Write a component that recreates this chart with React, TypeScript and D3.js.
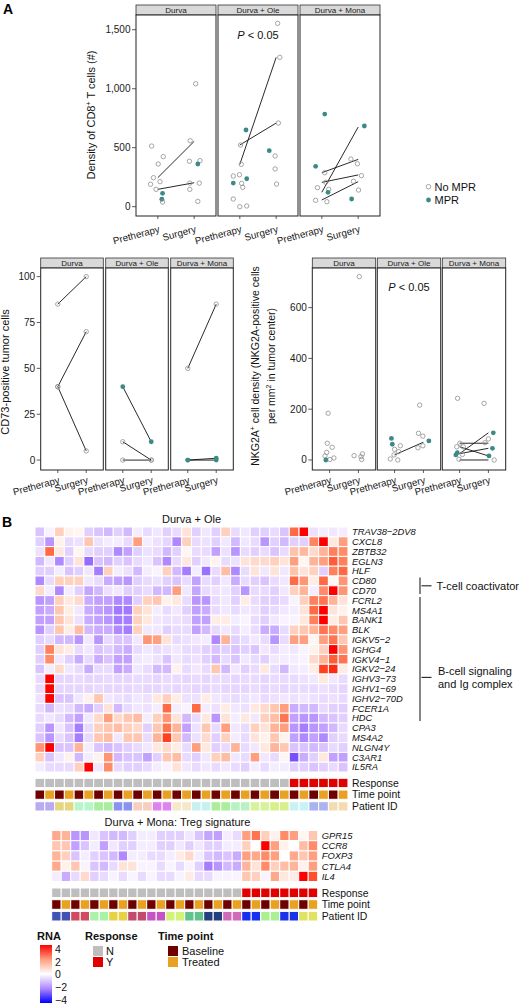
import React from "react";
import * as d3 from "d3";

const FONT = "Liberation Sans, Arial, Helvetica, sans-serif";
const TEAL = "#3b8a86";
const OPEN = "#8f8f8f";

const arms = ["Durva", "Durva + Ole", "Durva + Mona"];
const timepoints = ["Pretherapy", "Surgery"];

// [arm, timepoint, value, MPR (1) / no MPR (0), horizontal jitter in category units]
type Pt = [number, number, number, number, number];
// [arm, pretherapy value, surgery value, MPR]
type Pair = [number, number, number, number];

const cd8Points: Pt[] = [
  [0, 0, 514, 0, -0.17], [0, 0, 424, 0, 0.15], [0, 0, 362, 0, 0.01], [0, 0, 246, 0, -0.12],
  [0, 0, 212, 0, 0.06], [0, 0, 190, 0, -0.2], [0, 0, 147, 0, -0.05], [0, 0, 113, 1, 0.13],
  [0, 0, 63, 1, 0.11], [0, 0, 40, 0, 0.13],
  [0, 1, 1042, 0, 0.04], [0, 1, 559, 0, -0.11], [0, 1, 385, 0, -0.13], [0, 1, 390, 0, 0.16],
  [0, 1, 362, 1, 0.1], [0, 1, 200, 0, -0.12], [0, 1, 200, 0, 0.14], [0, 1, 147, 0, -0.12],
  [0, 1, 45, 0, 0.1],
  [1, 0, 650, 1, 0.17], [1, 0, 523, 0, 0.02], [1, 0, 359, 0, 0.04], [1, 0, 260, 0, -0.18],
  [1, 0, 271, 0, -0.01], [1, 0, 237, 1, 0.19], [1, 0, 200, 1, -0.18], [1, 0, 198, 0, 0.05],
  [1, 0, 164, 0, 0.08], [1, 0, 65, 0, -0.18], [1, 0, 0, 0, 0], [1, 0, 6, 0, 0.19],
  [1, 1, 1554, 0, 0.04], [1, 1, 1266, 0, 0.1], [1, 1, 709, 0, 0.06], [1, 1, 475, 1, -0.19],
  [1, 1, 430, 0, -0.03], [1, 1, 320, 0, -0.03], [1, 1, 192, 0, 0.01],
  [2, 0, 785, 1, 0.08], [2, 0, 342, 1, -0.17], [2, 0, 288, 0, 0.08], [2, 0, 207, 0, 0.11],
  [2, 0, 161, 0, -0.12], [2, 0, 147, 0, 0.19], [2, 0, 122, 1, 0.17], [2, 0, 54, 0, -0.17],
  [2, 0, 42, 0, 0.14],
  [2, 1, 684, 1, 0.17], [2, 1, 404, 0, -0.2], [2, 1, 364, 0, -0.02], [2, 1, 263, 0, 0.09],
  [2, 1, 215, 0, -0.13], [2, 1, 141, 0, 0.01], [2, 1, 65, 1, -0.18],
];
const cd8Pairs: Pair[] = [
  [0, 246, 554, 0], [0, 147, 203, 0], [1, 359, 1266, 0], [1, 523, 709, 0],
  [2, 122, 675, 1], [2, 288, 401, 0], [2, 206, 269, 0], [2, 57, 212, 0],
];

const cd73Pairs: Pair[] = [
  [0, 85, 100, 0], [0, 40, 70, 0], [0, 40, 5, 0],
  [1, 40, 10, 1], [1, 10, 0, 0], [1, 0, 0, 0],
  [2, 50, 85, 0], [2, 0, 0, 1], [2, 0, 1, 1],
];

const nkPoints: Pt[] = [
  [0, 0, 184, 0, -0.05], [0, 0, 66, 0, -0.08], [0, 0, 50, 0, 0.09], [0, 0, 30, 0, -0.1],
  [0, 0, 16, 0, -0.16], [0, 0, 8, 0, 0.15], [0, 0, 2, 0, 0.01], [0, 0, 0, 1, -0.13],
  [0, 1, 722, 0, 0.03], [0, 1, 17, 0, -0.15], [0, 1, 24, 0, 0.14], [0, 1, 13, 0, 0.09],
  [0, 1, 2, 0, 0.11],
  [1, 0, 85, 1, -0.11], [1, 0, 62, 1, -0.08], [1, 0, 56, 0, 0.2], [1, 0, 42, 0, 0],
  [1, 0, 33, 0, 0.14], [1, 0, 20, 0, -0.02], [1, 0, 4, 0, -0.15], [1, 0, 0, 0, 0.11],
  [1, 1, 216, 0, -0.13], [1, 1, 105, 0, -0.17], [1, 1, 94, 0, -0.02], [1, 1, 75, 1, 0.19],
  [1, 1, 48, 0, -0.19], [1, 1, 56, 0, -0.02],
  [2, 0, 243, 0, -0.07], [2, 0, 52, 0, -0.1], [2, 0, 66, 0, 0.01], [2, 0, 29, 1, -0.08],
  [2, 0, 20, 1, -0.13], [2, 0, 52, 0, 0.13], [2, 0, 22, 0, 0.1], [2, 0, 3, 0, -0.02],
  [2, 1, 223, 0, -0.15], [2, 1, 107, 1, 0.17], [2, 1, 83, 0, 0], [2, 1, 68, 0, -0.12],
  [2, 1, 46, 1, 0.14], [2, 1, 16, 1, 0.02], [2, 1, 0, 0, 0.2],
];
const nkPairs: Pair[] = [
  [1, 20, 70, 0], [2, 66, 66, 0], [2, 25, 107, 0], [2, 52, 16, 0], [2, 0, 0, 0], [2, 25, 46, 0],
];

// Heatmap: Durva + Ole
const oleGenes = [
  "TRAV38\u22122DV8", "CXCL8", "ZBTB32", "EGLN3", "HLF", "CD80", "CD70", "FCRL2", "MS4A1",
  "BANK1", "BLK", "IGKV5\u22122", "IGHG4", "IGKV4\u22121", "IGKV2\u221224", "IGHV3\u221273",
  "IGHV1\u221269", "IGHV2\u221270D", "FCER1A", "HDC", "CPA3", "MS4A2", "NLGN4Y", "C3AR1", "IL5RA",
];
const oleExpr: number[][] = [
  [-1, -0.2, 1, 0.3, 0.2, -0.8, -1, -1.2, -0.8, -1.2, -0.3, -0.6, -0.4, -0.8, -0.6, 0.6, -0.8, -0.4, -0.8, 1, -0.6, -0.4, -0.8, -0.8, -0.6, -1, 3, 4, -0.5, -0.3, -0.4, -0.3],
  [-0.8, -1.8, 0.3, -0.6, -0.5, 1.2, -0.5, -0.3, -0.3, -0.6, 2, -0.3, -0.5, -0.7, -2, 1, -0.6, -0.5, -0.8, -0.4, -1.2, -0.4, -0.6, -1.8, -0.8, -1.2, -0.8, -0.8, 2.5, 4, 0.5, 2],
  [-0.5, 3, 0.5, -0.8, 0.2, -0.6, -0.8, -0.8, -2, -1.6, -0.8, -0.5, -0.6, -1.2, -0.8, 0.2, -0.6, -0.6, -1.6, -0.5, -1.8, -0.6, -0.8, -0.6, -1, -0.6, 1.3, 1.5, 0.8, 1.6, 2.6, 2.4],
  [-1.2, -0.4, -2, -0.8, 0.6, -2.5, -1, -1.2, -0.8, -1, -0.6, -0.4, -1, -2, -0.6, 0.5, -0.8, -0.4, 0.3, -0.6, -0.5, 0.6, 0.8, 0.8, 1, 0.6, 2, 0.2, 1.6, 2, 3.2, 2.6],
  [-0.8, -0.8, -0.3, -1, -0.8, -0.4, -2.2, 1, -0.3, -0.5, -1.2, -0.3, -0.2, 1, -1.2, -2.2, -0.3, -2.4, -0.6, 1.4, -2, -0.6, 0.6, -0.4, 0.6, -0.4, 1.3, 0.6, 1, -0.8, 2.6, 3],
  [-2, -0.6, 1, 1, 1, -0.4, -0.6, -1.4, -1.6, -1.8, -0.8, -0.6, -0.5, -0.8, -1, -0.6, -1.6, -0.6, -0.8, -0.4, -1.4, -0.6, -0.8, -1, -0.6, -0.4, 3, 2.2, 0.4, 3, 0.2, 2.2],
  [0.8, -0.3, -2, -0.3, -0.8, -1.5, -1.2, -0.5, -0.4, -0.8, -0.8, -0.6, -1.2, -1.2, 2, -0.4, -1.5, -0.6, -0.5, -0.4, -0.8, -1.8, -0.6, -0.6, -0.8, -0.4, 1, 1.6, -0.3, 2.4, 4, 2.2],
  [-1.8, -1.6, 1, 0.5, 0.8, -1.4, -1.6, -1.6, -2, -2, -0.8, 1, 1.2, 0.3, 0.5, -0.6, -1.8, -1.8, -0.6, -0.4, -0.8, 0.4, -0.6, -0.8, -0.8, -0.6, -0.2, 1, 2.6, 2.8, 1.6, 0.6],
  [-1.6, -1.4, 1.2, 0.4, -0.4, -1.4, -1.6, -1.8, -2.3, -2.3, 1, 0.6, -0.3, -0.6, -0.4, -0.8, -1.6, -1.4, -0.6, -0.4, -0.6, -0.4, -0.5, -0.8, -0.6, -0.4, -0.3, 0.6, 3, 4, 0.6, 0.3],
  [-1.6, -1.6, 1.2, 0.6, -0.5, -1.4, -1.6, -1.8, -2.2, -2.2, 1, 0.5, -0.4, -0.5, -0.5, -0.6, -1.6, -1.6, 0.4, 0.4, -0.3, -0.2, -0.6, -0.8, -0.4, -0.2, -0.2, 0.5, 2.6, 4, 0.4, 1.2],
  [-1.8, -0.8, 1.2, 0.4, 1.4, -1.2, -1.4, -1.4, -2, -2.2, 1, -0.4, -0.4, -0.8, -0.6, -0.6, -1.6, -1.2, -0.6, -0.4, -0.6, -0.3, -0.6, -1.4, -1.4, -0.6, 1, 1.2, 1.6, 2.8, 2.4, 2],
  [-0.8, -0.6, -1.2, -1.2, -1.8, -0.4, -1.8, -0.6, -1, -1, -0.4, 2.2, 2, 0.6, -0.6, -0.5, -0.4, -0.3, -2, 1.6, -0.8, -0.6, -0.4, -0.6, -1.8, -0.6, 2, 2, 0.2, 2, 2.8, 1.2],
  [-0.8, 2.6, 0.6, 0.4, -0.6, -0.4, -1, -0.8, -1.2, -1.4, -0.6, -0.4, -0.6, -0.5, -0.4, -0.6, -0.6, -0.8, -1, -0.8, -1, -0.8, -1, -0.4, -0.6, -0.3, -0.4, -0.2, 0.3, 1, 4, 2.2],
  [-0.8, 2.4, -0.4, -0.8, -1.4, -0.6, -1.4, -1, -1.6, -1.6, -0.4, -0.3, -0.5, -1, -0.4, -0.6, -0.5, -0.8, -1.2, -0.6, -1, -0.4, -0.6, -0.8, -0.4, -0.3, -0.3, -0.2, 0.8, 1.6, 3.2, 2.8],
  [-1, -0.3, 0.8, -0.4, -0.6, -1.4, -0.6, -0.6, -1.6, -1.4, -0.4, -0.6, -1.2, -1.2, 0.3, -0.6, -0.4, -0.6, 1.2, -1.2, -0.4, -0.8, -0.6, 0.5, -0.6, -1.2, -0.4, -0.3, 0.4, 3.6, 3.8, 0.4],
  [-0.6, 4, -0.7, -0.7, -0.6, -0.7, -0.7, -0.6, -0.7, -0.7, -0.6, -0.6, -0.7, -0.6, -0.6, -0.7, -0.6, -0.7, -0.6, -0.6, -0.7, -0.6, -0.6, -0.7, -0.6, -0.6, -0.6, -0.5, -0.4, 0.5, -0.4, -0.6],
  [-0.6, 4, -0.7, -0.7, -0.7, -0.7, -0.6, -0.7, -0.7, -0.7, -0.6, -0.7, -0.7, -0.6, -0.7, -0.6, -0.7, -0.7, -0.6, -0.7, -0.7, -0.7, -0.6, -0.7, -0.6, -0.7, -0.6, -0.6, -0.6, -0.5, -0.6, -0.7],
  [-0.5, 4, -1, -1, -0.4, 0.3, 1.2, -0.4, -0.5, -0.6, -0.4, -0.5, 0.5, 1, 0.4, -0.5, -0.5, 0.4, -0.4, -0.5, -0.6, -0.5, -0.4, -0.6, -0.5, -0.4, -0.5, -0.4, -0.5, -0.6, -0.5, -0.6],
  [-0.6, -1.2, -0.5, -0.6, -1.2, -1.4, -0.8, 0.6, -1.2, -0.6, -0.4, -0.5, -0.3, 3, -0.3, -0.2, 3, -0.3, -0.5, 0.4, -0.4, -0.5, 0.5, 0.8, 1.2, 2, -1.4, -1.2, -1.2, -0.6, -0.8, -0.8],
  [-0.6, -0.4, -0.6, -1.2, -1.6, -0.4, 0.8, 2, 0.8, 1.2, 1.4, -0.3, 1, 2.2, 0.6, -1.2, -0.6, 0.5, -1.8, 0.6, -0.3, 0.5, -0.4, 1, 1.4, 2.8, -1.6, -1.8, -1.8, -1.2, -1, -0.8],
  [-0.8, -1.8, -0.4, -1, -2.2, -0.6, 1, 1.2, 1.4, 1, 0.8, -0.8, 1.2, 2.8, 1.6, -1.6, -0.5, 1.2, -0.6, 2, -0.4, -0.6, 1, 0.6, 1.6, 2, -1.8, -2.2, -1.8, -1.6, -1.2, -0.6],
  [-1, -1.8, -0.6, -1, -2.2, -0.6, 1.2, 1.4, -0.4, 1.2, 1.2, -0.6, 1.6, 3.6, 1.2, -1.2, -0.5, 0.8, -0.8, 1, -0.3, -0.6, 0.6, 0.3, 1.2, 0.3, -1.6, -2, -1.6, -2, -0.8, -0.6],
  [2.2, 4, -1, -1, 1.6, -0.3, -1, -1.2, -1, -0.8, -0.6, -0.4, 0.5, 0.8, 0.4, -0.6, 2, 0.5, -0.8, -0.6, 1.6, -0.6, -0.4, 0.5, 1.6, 1.2, -1, -1, -1.2, -1, -0.6, -0.8],
  [1, -1, -0.4, 0.3, -1.2, -0.3, 0.3, 2.2, -1.2, -1, -1, -1.6, -0.8, 1.2, 1.4, -0.6, -0.8, -0.4, 1, 1.4, -0.4, -0.6, 2, -0.4, -0.6, 0.2, -3, -1.4, -0.8, 0.5, -1.6, -1.6],
  [-0.3, -0.6, -0.6, -0.6, 1, 4, -0.4, 2.4, -0.6, -0.8, -0.8, -0.6, -0.3, -0.2, 0.6, -0.4, -0.6, -0.4, -0.6, -0.4, -0.6, -0.8, -0.3, -0.6, -0.3, -0.3, -0.8, -0.8, -1, -0.8, -0.6, -1],
];
const oleResponse = "NNNNNNNNNNNNNNNNNNNNNNNNNNYYYYYY".split("");
const oleTime = "BTBTBTBTBTBTBTBTBTBTBTBTBTBTBTBT".split("");
const olePatients = [
  "O1", "O1", "O2", "O2", "O3", "O3", "O4", "O4", "O5", "O5", "O6", "O6", "O7", "O7", "O8", "O8",
  "O9", "O9", "O10", "O10", "O11", "O11", "O12", "O12", "O13", "O13", "O14", "O14", "O15", "O15", "O16", "O16",
];
const olePatientIds = ["O1", "O2", "O3", "O4", "O5", "O6", "O7", "O8", "O9", "O10", "O11", "O12", "O13", "O14", "O15", "O16"];
const olePatientFill = [
  "#b9aaf2", "#e6d682", "#b6f6c8", "#a9ee9c", "#8a92f0", "#f6cfc0", "#df82ef", "#f6e8c8",
  "#c6f0f2", "#aaee9a", "#b8f2c2", "#d6f29a", "#d8f08c", "#c8f2f6", "#aab2f2", "#f4dcb2",
];

// Heatmap: Durva + Mona Treg signature
const monaGenes = ["GPR15", "CCR8", "FOXP3", "CTLA4", "IL4"];
const monaExpr: number[][] = [
  [1.8, 1.6, -1.8, -1.8, -0.4, -1, -1.2, -1.2, -0.8, -0.3, -0.3, -0.8, -0.8, -0.8, -0.4, -1, -1.5, -1.6, -0.3, -0.6, 2, 2.8, 1, 0.3, 2.4, 2, 0.2, 1.2],
  [1.2, 1.2, -1.6, -1, -0.3, -1.6, -0.4, -0.8, -0.8, -0.3, -0.3, -0.8, -0.8, -0.4, -0.8, -0.4, -0.8, -0.8, -0.3, -0.3, 1, 0, 4, 2, 0.3, 0, 1.4, 2.4],
  [1.6, 1, -1, -0.3, -0.8, -1, -1.2, -2, -0.3, -0.3, -0.6, -0.6, -0.3, 0.4, 0.8, -0.3, -1, -1.2, -1, -1.4, 2, 1.8, 2.4, 2, 0, 1.8, 1.2, 2],
  [1.8, 0.3, 1.2, -0.2, -1, -1.2, -0.6, 0.6, 0.6, -0.2, -0.2, -0.6, -0.2, -0.6, -0.2, -0.8, -2.2, -1.8, -1.2, -1.4, 1.6, 0.6, 2.4, 1, 1.4, 1.6, 0.3, 2],
  [-0.3, -1.4, -0.6, 0.8, -0.8, -0.6, -0.2, -0.6, -0.2, -0.6, -0.2, -0.6, -0.6, -0.2, 0.4, -0.6, -0.6, -0.2, -0.2, -0.2, 1.2, 1, -0.2, 1.8, 0.5, 0.4, 4, 3.4],
];
const monaResponse = "NNNNNNNNNNNNNNNNNNNNYYYYYYYY".split("");
const monaTime = "BTBTBTBTBTBTBTBTBTBTBTBTBTBT".split("");
const monaPatients = [
  "M1", "M1", "M2", "M2", "M3", "M3", "M4", "M4", "M5", "M5", "M6", "M6", "M7", "M7",
  "M8", "M8", "M9", "M9", "M10", "M10", "M11", "M11", "M12", "M12", "M13", "M13", "M14", "M14",
];
const monaPatientIds = ["M1", "M2", "M3", "M4", "M5", "M6", "M7", "M8", "M9", "M10", "M11", "M12", "M13", "M14"];
const monaPatientFill = [
  "#4052b4", "#d04a62", "#a9f2a9", "#e6d244", "#c24a6c", "#c454c4", "#d2f27a", "#62c28c",
  "#22407c", "#d26ab8", "#1630f0", "#aaf092", "#1a32e6", "#e2e262",
];

const responseLevels = ["N", "Y"];
const responseFill = ["#bebebe", "#e00000"];
const timeLevels = ["B", "T"];
const timeNames = ["Baseline", "Treated"];
const timeFill = ["#6e0000", "#e9a122"];
const rnaTicks = [4, 2, 0, -2, -4];

const rnaColor = d3
  .scaleLinear<string>()
  .domain([-4, 0, 4])
  .range(["blue", "white", "red"])
  .interpolate(d3.interpolateLab)
  .clamp(true);

interface FacetProps {
  left: number;
  panelW: number;
  step: number;
  top: number;
  bottom: number;
  yDomain: [number, number];
  yTicks: number[];
  points: Pt[];
  pairs: Pair[];
  pValue?: number;
  labelOffset: number;
}

const Facet = ({ left, panelW, step, top, bottom, yDomain, yTicks, points, pairs, pValue, labelOffset }: FacetProps) => {
  const y = d3.scaleLinear().domain(yDomain).range([bottom, top]);
  const fmt = d3.format(",");
  return (
    <g>
      {arms.map((arm, a) => {
        const px = left + a * step;
        const x = d3.scaleLinear().domain([0.4, 2.6]).range([px, px + panelW]);
        const pts = points.filter((p) => p[0] === a);
        return (
          <g key={arm}>
            <rect x={px} y={top - 10} width={panelW} height={10} fill="#d9d9d9" stroke="#333" strokeWidth={0.8} />
            <text x={px + panelW / 2} y={top - 2.4} fontSize={8} textAnchor="middle" fill="#1a1a1a">{arm}</text>
            <rect x={px} y={top} width={panelW} height={bottom - top} fill="#fff" stroke="#222" strokeWidth={1} />
            {pairs.filter((p) => p[0] === a).map((p, i) => (
              <line key={i} x1={x(1)} y1={y(p[1])} x2={x(2)} y2={y(p[2])} stroke="#111" strokeWidth={0.9} />
            ))}
            {pts.map((p, i) =>
              p[3] ? (
                <circle key={i} cx={x(p[1] + 1 + p[4])} cy={y(p[2])} r={2.4} fill={TEAL} />
              ) : (
                <circle key={i} cx={x(p[1] + 1 + p[4])} cy={y(p[2])} r={2.2} fill="none" stroke={OPEN} strokeWidth={0.8} />
              )
            )}
            {timepoints.map((t, i) => (
              <g key={t}>
                <line x1={x(i + 1)} x2={x(i + 1)} y1={bottom} y2={bottom + 3} stroke="#333" strokeWidth={0.8} />
                <text
                  transform={`translate(${x(i + 1) + 2.5},${bottom + labelOffset}) rotate(-15)`}
                  textAnchor="end"
                  fontSize={9.8}
                  fill="#1a1a1a"
                >
                  {t}
                </text>
              </g>
            ))}
            {pValue !== undefined && a === 1 && (
              <text x={x(1.5)} y={y(pValue)} fontSize={11} textAnchor="middle" dy="0.35em" fill="#111">
                <tspan fontStyle="italic">P</tspan> {"< 0.05"}
              </text>
            )}
          </g>
        );
      })}
      {yTicks.map((t) => (
        <g key={t}>
          <line x1={left - 4} x2={left} y1={y(t)} y2={y(t)} stroke="#333" strokeWidth={0.8} />
          <text x={left - 5.5} y={y(t)} dy="0.35em" fontSize={10} textAnchor="end" fill="#1a1a1a">{fmt(t)}</text>
        </g>
      ))}
    </g>
  );
};

interface HeatProps {
  matrix: number[][];
  genes: string[];
  x0: number;
  y0: number;
  cw: number;
  ch: number;
  annTop: number;
  annStep: number;
  annH: number;
  response: string[];
  time: string[];
  patients: string[];
  patientIds: string[];
  patientFill: string[];
}

const Heatmap = ({ matrix, genes, x0, y0, cw, ch, annTop, annStep, annH, response, time, patients, patientIds, patientFill }: HeatProps) => {
  const ncol = matrix[0].length;
  const xb = d3.scaleBand<number>().domain(d3.range(ncol)).range([x0, x0 + ncol * cw]);
  const yb = d3.scaleBand<string>().domain(genes).range([y0, y0 + genes.length * ch]);
  const respColor = d3.scaleOrdinal<string, string>().domain(responseLevels).range(responseFill);
  const timeColor = d3.scaleOrdinal<string, string>().domain(timeLevels).range(timeFill);
  const patColor = d3.scaleOrdinal<string, string>().domain(patientIds).range(patientFill);
  const labelX = x0 + ncol * cw + 4;
  const annRows: [string, string[], (v: string) => string][] = [
    ["Response", response, respColor],
    ["Time point", time, timeColor],
    ["Patient ID", patients, patColor],
  ];
  return (
    <g>
      {matrix.map((row, r) =>
        row.map((v, c) => (
          <rect
            key={`${r}-${c}`}
            x={xb(c)}
            y={yb(genes[r])}
            width={xb.bandwidth()}
            height={yb.bandwidth()}
            fill={rnaColor(v)}
            stroke="#fff"
            strokeWidth={1}
          />
        ))
      )}
      {genes.map((g) => (
        <text key={g} x={labelX} y={(yb(g) ?? 0) + yb.bandwidth() / 2} dy="0.36em" fontSize={9.4} fontStyle="italic" fill="#111">
          {g}
        </text>
      ))}
      {annRows.map(([name, vals, col], i) => (
        <g key={name}>
          {vals.map((v, c) => (
            <rect key={c} x={xb(c)} y={annTop + i * annStep} width={xb.bandwidth()} height={annH} fill={col(v)} stroke="#fff" strokeWidth={1} />
          ))}
          <text x={labelX} y={annTop + i * annStep + annH / 2} dy="0.36em" fontSize={10.4} fill="#111">{name}</text>
        </g>
      ))}
    </g>
  );
};

export default function App() {
  const ole = { x0: 35, y0: 527, cw: 9.78, ch: 9.8 };
  const rowY = (g: string) => ole.y0 + oleGenes.indexOf(g) * ole.ch;
  const legY = d3.scaleLinear().domain([4, -4]).range([949, 1000]);
  const cd73Points: Pt[] = cd73Pairs.flatMap((p) => [
    [p[0], 0, p[1], p[3], 0] as Pt,
    [p[0], 1, p[2], p[3], 0] as Pt,
  ]);
  const brX = 420;
  const tTop = rowY("CD80") + 1.5;
  const tBot = rowY("CD70") + ole.ch - 1.5;
  const bTop = rowY("FCRL2") + 1.5;
  const bBot = rowY("HDC") + ole.ch - 2;
  const bMid = rowY("IGHV3\u221273") + ole.ch / 2 - 1.5;

  return (
    <svg
      width={520}
      height={1007}
      style={{ position: "absolute", left: 0, top: 0, background: "#fff" }}
      fontFamily={FONT}
    >
      <defs>
        <linearGradient id="rnaGrad" x1="0" y1="0" x2="0" y2="1">
          {rnaTicks.map((v, i) => (
            <stop key={v} offset={i / (rnaTicks.length - 1)} stopColor={rnaColor(v)} />
          ))}
        </linearGradient>
      </defs>

      {/* Panel A: CD8 density */}
      <text x={3} y={14} fontSize={14} fontWeight="bold">A</text>
      <Facet
        left={136}
        panelW={80}
        step={82}
        top={15}
        bottom={216}
        yDomain={[-79, 1625]}
        yTicks={[0, 500, 1000, 1500]}
        points={cd8Points}
        pairs={cd8Pairs}
        pValue={1455}
        labelOffset={16}
      />
      <text transform="translate(95,115) rotate(-90)" textAnchor="middle" fontSize={11} fill="#111">
        Density of CD8<tspan dy={-4} fontSize={7}>+</tspan>
        <tspan dy={4}> T cells (#)</tspan>
      </text>
      <circle cx={428.5} cy={186.7} r={2.3} fill="none" stroke={OPEN} strokeWidth={0.8} />
      <text x={434.5} y={186.7} dy="0.36em" fontSize={11} fill="#111">No MPR</text>
      <circle cx={428.5} cy={200} r={2.4} fill={TEAL} />
      <text x={434.5} y={200} dy="0.36em" fontSize={11} fill="#111">MPR</text>

      {/* CD73 */}
      <Facet
        left={40.7}
        panelW={62.6}
        step={65}
        top={268}
        bottom={470}
        yDomain={[-5.4, 104.7]}
        yTicks={[0, 25, 50, 75, 100]}
        points={cd73Points}
        pairs={cd73Pairs}
        labelOffset={13}
      />
      <text transform="translate(9,372) rotate(-90)" textAnchor="middle" fontSize={11} fill="#111">
        CD73-positive tumor cells
      </text>

      {/* NKG2A */}
      <Facet
        left={312.3}
        panelW={63.4}
        step={65}
        top={268}
        bottom={470}
        yDomain={[-39.4, 756]}
        yTicks={[0, 200, 400, 600]}
        points={nkPoints}
        pairs={nkPairs}
        pValue={681}
        labelOffset={13}
      />
      <text transform="translate(259,366) rotate(-90)" textAnchor="middle" fontSize={10.5} fill="#111">
        NKG2A<tspan dy={-4} fontSize={7}>+</tspan>
        <tspan dy={4}> cell density (NKG2A-positive cells</tspan>
      </text>
      <text transform="translate(275,366) rotate(-90)" textAnchor="middle" fontSize={10.5} fill="#111">
        per mm<tspan dy={-4} fontSize={7}>2</tspan>
        <tspan dy={4}> in tumor center)</tspan>
      </text>

      {/* Panel B */}
      <text x={2} y={527} fontSize={14} fontWeight="bold">B</text>
      <text x={191.5} y={523} fontSize={11} textAnchor="middle" fill="#111">Durva + Ole</text>
      <Heatmap
        matrix={oleExpr}
        genes={oleGenes}
        {...ole}
        annTop={778.3}
        annStep={11.7}
        annH={9.3}
        response={oleResponse}
        time={oleTime}
        patients={olePatients}
        patientIds={olePatientIds}
        patientFill={olePatientFill}
      />
      <line x1={brX} x2={brX} y1={tTop} y2={tBot} stroke="#222" strokeWidth={1.1} />
      <line x1={brX + 1.5} x2={brX + 11.5} y1={(tTop + tBot) / 2} y2={(tTop + tBot) / 2} stroke="#222" strokeWidth={1.1} />
      <text x={436.5} y={(tTop + tBot) / 2} dy="0.36em" fontSize={11} fill="#111">T-cell coactivator</text>
      <line x1={brX} x2={brX} y1={bTop} y2={bBot} stroke="#222" strokeWidth={1.1} />
      <line x1={brX + 1.5} x2={brX + 11.5} y1={bMid} y2={bMid} stroke="#222" strokeWidth={1.1} />
      <text x={438} y={bMid - 6.5} dy="0.36em" fontSize={11} fill="#111">B-cell signaling</text>
      <text x={438} y={bMid + 6.5} dy="0.36em" fontSize={11} fill="#111">and Ig complex</text>

      <text x={177.5} y={826} fontSize={11} textAnchor="middle" fill="#111">Durva + Mona: Treg signature</text>
      <Heatmap
        matrix={monaExpr}
        genes={monaGenes}
        x0={51.7}
        y0={830.5}
        cw={9.5}
        ch={10.2}
        annTop={888}
        annStep={11.7}
        annH={9.6}
        response={monaResponse}
        time={monaTime}
        patients={monaPatients}
        patientIds={monaPatientIds}
        patientFill={monaPatientFill}
      />

      {/* Legends */}
      <text x={37} y={940} fontSize={11} fontWeight="bold" fill="#111">RNA</text>
      <rect x={40} y={945} width={12} height={58} fill="url(#rnaGrad)" />
      {rnaTicks.map((v) => (
        <text key={v} x={55} y={legY(v)} dy="0.36em" fontSize={10.5} fill="#111">
          {v < 0 ? `\u2212${Math.abs(v)}` : v}
        </text>
      ))}
      <text x={85} y={940} fontSize={11} fontWeight="bold" fill="#111">Response</text>
      {responseLevels.map((r, i) => (
        <g key={r}>
          <rect x={93} y={946 + i * 11} width={10} height={10} fill={responseFill[i]} />
          <text x={106} y={951 + i * 11} dy="0.36em" fontSize={11} fill="#111">{r}</text>
        </g>
      ))}
      <text x={158} y={940} fontSize={11} fontWeight="bold" fill="#111">Time point</text>
      {timeNames.map((t, i) => (
        <g key={t}>
          <rect x={168} y={946 + i * 11} width={10} height={10} fill={timeFill[i]} />
          <text x={182} y={951 + i * 11} dy="0.36em" fontSize={11} fill="#111">{t}</text>
        </g>
      ))}
    </svg>
  );
}
